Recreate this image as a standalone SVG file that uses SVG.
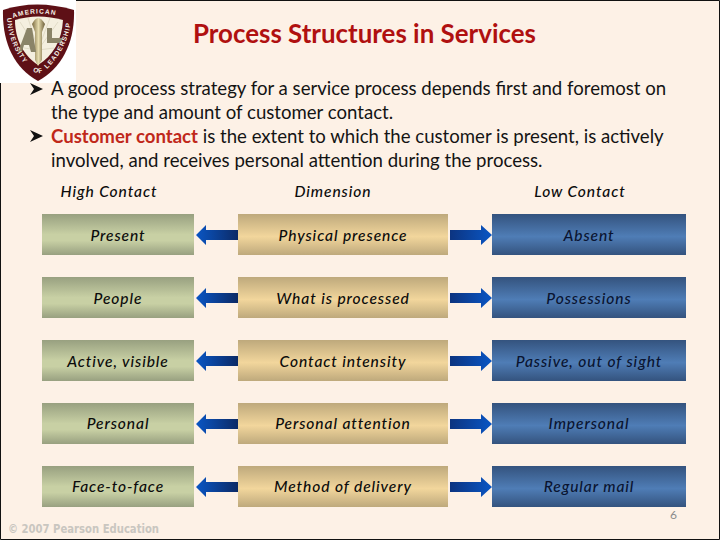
<svg xmlns="http://www.w3.org/2000/svg" width="720" height="540" viewBox="0 0 720 540">
<style>
text{font-family:Lato,"Liberation Sans",sans-serif}
.title{font-size:25.9px;font-weight:700;fill:#b01010}
.body{font-size:18.6px;fill:#141414}
.red{fill:#c0281a;font-weight:700}
.head,.lbl{font-size:15.6px;font-weight:500;font-style:italic;fill:#0c0c0c;text-anchor:middle;letter-spacing:.9px}
.dark{fill:#0a1430}
.logo{font-family:"Liberation Sans",sans-serif;font-size:6.6px;font-weight:700;fill:#f5efe6;letter-spacing:1.05px}
.ray{stroke:#d8d2bc;stroke-width:.7}
</style>
<defs>
<linearGradient id="g" x1="0" y1="0" x2="0" y2="1"><stop offset="0" stop-color="#98a080"/><stop offset=".5" stop-color="#c8d0a4"/><stop offset=".65" stop-color="#c8d0a4"/><stop offset="1" stop-color="#98a080"/></linearGradient>
<linearGradient id="t" x1="0" y1="0" x2="0" y2="1"><stop offset="0" stop-color="#bea97c"/><stop offset=".55" stop-color="#f2d69c"/><stop offset="1" stop-color="#bea97c"/></linearGradient>
<linearGradient id="b" x1="0" y1="0" x2="0" y2="1"><stop offset="0" stop-color="#34537e"/><stop offset=".55" stop-color="#4f7db6"/><stop offset="1" stop-color="#34537e"/></linearGradient>
<linearGradient id="al" x1="0" y1="0" x2="1" y2="0"><stop offset="0" stop-color="#0a56c4"/><stop offset="1" stop-color="#0c2a66"/></linearGradient>
<linearGradient id="ar" x1="0" y1="0" x2="1" y2="0"><stop offset="0" stop-color="#0c3480"/><stop offset="1" stop-color="#0a56c4"/></linearGradient>
<linearGradient id="gold" x1="0" y1="0" x2="1" y2="0"><stop offset="0" stop-color="#7a6a40"/><stop offset=".5" stop-color="#e6dcae"/><stop offset="1" stop-color="#6a5c38"/></linearGradient>
<path id="la" d="M0 -5H-32V-10L-42 0L-32 10V5H0Z"/>
<path id="arr" d="M0 -5H31V-10L42 0L31 10V5H0Z"/>
<path id="arcT" d="M13 18Q38 9 66 18"/>
<path id="arcL" d="M7 18C8 36 14 52 28 68"/>
<path id="arcO" d="M33 71Q38 75 45 71"/>
<path id="arcR" d="M47 69C60 56 69 40 71 20"/>
</defs>
<rect width="720" height="540" fill="#fdf1e6"/>
<path d="M.5 83V539.5H719.5V.5H76" fill="none" stroke="#111" stroke-width="1"/>
<g id="logo">
<rect width="76" height="83" fill="#fff"/>
<path d="M3 10Q36 -1 74 10C75 42 62 68 38 81C14 68 2 42 3 10Z" fill="#5e1016"/>
<path d="M15 20Q38 13 63 20C62 40 53 56 38 65C24 56 15 40 15 20Z" fill="#f4efdf"/>
<path class="ray" d="M38 50L20 22M38 50L28 18M38 50L50 18M38 50L58 22M38 50L24 48M38 50L54 48"/>
<path d="M32 24Q38 12 45 24L42 32V60L38 66L35 60V32Z" fill="url(#gold)"/>
<path d="M18 52L27 28H32L36 52H31L29 45H24L22 52Z" fill="#8a8468"/>
<path d="M47 28H52V38H62V43H47Z" fill="#8a8468"/>
<text class="logo"><textPath href="#arcT">AMERICAN</textPath></text>
<text class="logo"><textPath href="#arcL">UNIVERSITY</textPath></text>
<text class="logo"><textPath href="#arcO">OF</textPath></text>
<text class="logo"><textPath href="#arcR">LEADERSHIP</textPath></text>
</g>
<text class="title" x="193" y="43">Process Structures in Services</text>
<g id="bullets">
<path d="M30 83L43 89L30 95L34 89Z" fill="#111"/>
<text class="body" x="51" y="95">A good process strategy for a service process depends first and foremost on</text>
<text class="body" x="51" y="119">the type and amount of customer contact.</text>
<path d="M30 130L43 136L30 142L34 136Z" fill="#111"/>
<text class="body" x="51" y="143"><tspan class="red">Customer contact</tspan> is the extent to which the customer is present, is actively</text>
<text class="body" x="51" y="167">involved, and receives personal attention during the process.</text>
</g>
<g id="headers">
<text class="head" x="109" y="197">High Contact</text>
<text class="head" x="333" y="197">Dimension</text>
<text class="head" x="580" y="197">Low Contact</text>
</g>
<g id="connectors">
<g fill="url(#al)">
<use href="#la" transform="translate(238 235)"/>
<use href="#la" transform="translate(238 298)"/>
<use href="#la" transform="translate(238 361)"/>
<use href="#la" transform="translate(238 424)"/>
<use href="#la" transform="translate(238 487)"/>
</g>
<g fill="url(#ar)">
<use href="#arr" transform="translate(450 235)"/>
<use href="#arr" transform="translate(450 298)"/>
<use href="#arr" transform="translate(450 361)"/>
<use href="#arr" transform="translate(450 424)"/>
<use href="#arr" transform="translate(450 487)"/>
</g>
</g>
<g id="n1"><rect x="42" y="214" width="152" height="41" fill="url(#g)"/><text class="lbl" x="118" y="241">Present</text></g>
<g id="n2"><rect x="238" y="214" width="210" height="41" fill="url(#t)"/><text class="lbl" x="343" y="241">Physical presence</text></g>
<g id="n3"><rect x="492" y="214" width="194" height="41" fill="url(#b)"/><text class="lbl dark" x="589" y="241">Absent</text></g>
<g id="n4"><rect x="42" y="277" width="152" height="41" fill="url(#g)"/><text class="lbl" x="118" y="304">People</text></g>
<g id="n5"><rect x="238" y="277" width="210" height="41" fill="url(#t)"/><text class="lbl" x="343" y="304">What is processed</text></g>
<g id="n6"><rect x="492" y="277" width="194" height="41" fill="url(#b)"/><text class="lbl dark" x="589" y="304">Possessions</text></g>
<g id="n7"><rect x="42" y="340" width="152" height="41" fill="url(#g)"/><text class="lbl" x="118" y="367">Active, visible</text></g>
<g id="n8"><rect x="238" y="340" width="210" height="41" fill="url(#t)"/><text class="lbl" x="343" y="367">Contact intensity</text></g>
<g id="n9"><rect x="492" y="340" width="194" height="41" fill="url(#b)"/><text class="lbl dark" x="589" y="367">Passive, out of sight</text></g>
<g id="n10"><rect x="42" y="403" width="152" height="41" fill="url(#g)"/><text class="lbl" x="118" y="429">Personal</text></g>
<g id="n11"><rect x="238" y="403" width="210" height="41" fill="url(#t)"/><text class="lbl" x="343" y="429">Personal attention</text></g>
<g id="n12"><rect x="492" y="403" width="194" height="41" fill="url(#b)"/><text class="lbl dark" x="589" y="429">Impersonal</text></g>
<g id="n13"><rect x="42" y="466" width="152" height="41" fill="url(#g)"/><text class="lbl" x="118" y="492">Face-to-face</text></g>
<g id="n14"><rect x="238" y="466" width="210" height="41" fill="url(#t)"/><text class="lbl" x="343" y="492">Method of delivery</text></g>
<g id="n15"><rect x="492" y="466" width="194" height="41" fill="url(#b)"/><text class="lbl dark" x="589" y="492">Regular mail</text></g>
<text x="670" y="519" font-size="12" fill="#8a8a8a">6</text>
<text x="8" y="533" font-size="12" font-weight="700" fill="#c9c6c0" style="font-family:'DejaVu Sans',sans-serif" textLength="151" lengthAdjust="spacingAndGlyphs">© 2007 Pearson Education</text>
</svg>
